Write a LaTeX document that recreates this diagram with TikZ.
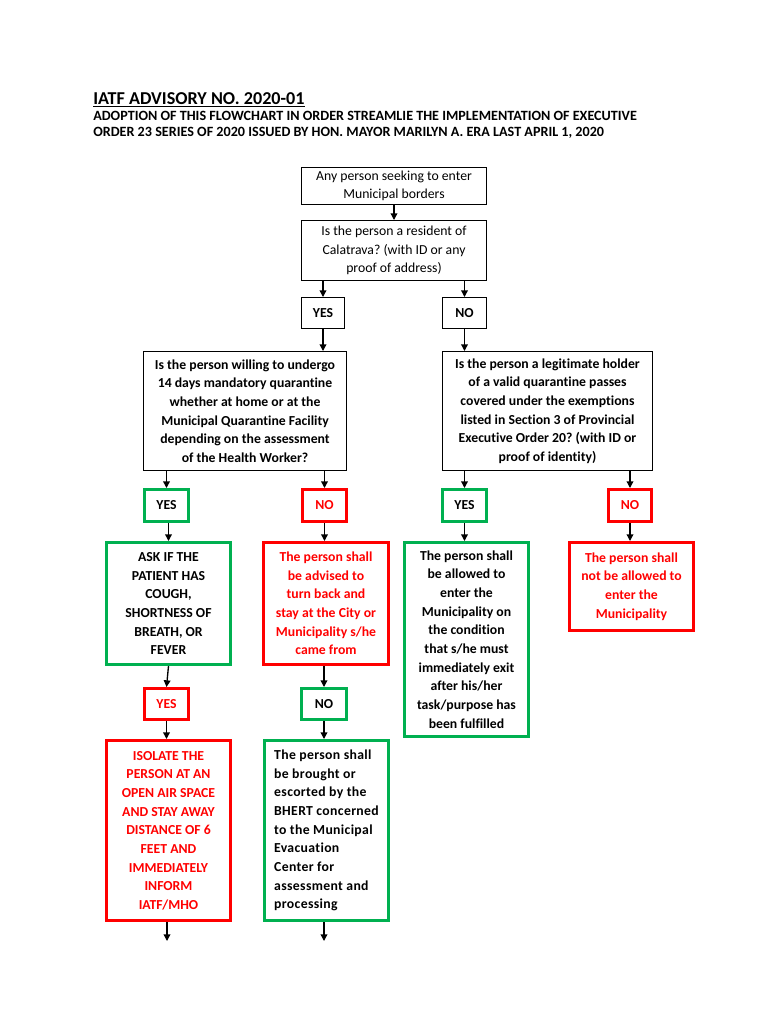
\documentclass[tikz,border=0pt]{standalone}
\usepackage{fontspec}
\setmainfont{Carlito}[Ligatures=NoCommon]
\usetikzlibrary{arrows.meta}
\definecolor{xgreen}{RGB}{0,176,80}
\definecolor{xred}{RGB}{255,0,0}
\newcommand\mybox[8]{\node[#2, minimum width={(#5-#3-#7)*0.75pt}, minimum height={(#6-#4-#7)*0.75pt}] (#1) at ({(#3+#5)/2},{(#4+#6)/2}) {#8};}
\frenchspacing
\begin{document}
\frenchspacing
\begin{tikzpicture}[x=0.75pt,y=-0.75pt,
 base/.style={draw, inner sep=0pt, align=center, font=\fontsize{10.3}{14}\selectfont\frenchspacing},
 blk/.style={base, line width=0.8pt},
 blkb/.style={blk, font=\fontsize{10.3}{14}\selectfont\bfseries\frenchspacing},
 gbox/.style={base, draw=xgreen, line width=2.6pt, font=\fontsize{10.3}{14}\selectfont\bfseries\frenchspacing},
 rbox/.style={base, draw=xred, line width=2.6pt, text=xred, font=\fontsize{10.3}{14}\selectfont\bfseries\frenchspacing},
 arr/.style={line width=1pt, -{Triangle[width=5pt,length=5pt]}},
 hdr/.style={anchor=base west, inner sep=0pt, font=\fontsize{10.6}{12.75}\selectfont\bfseries\frenchspacing}]
\useasboundingbox[fill=white] (0,0) rectangle (768,1024);

\node[anchor=base west, inner sep=0pt, font=\fontsize{13.6}{16}\selectfont\bfseries\frenchspacing] (title) at (93,104) {\underline{IATF ADVISORY NO. 2020-01}};
\node[hdr] (sub1) at (93,120) {ADOPTION OF THIS FLOWCHART IN ORDER STREAMLIE THE IMPLEMENTATION OF EXECUTIVE};
\node[hdr] (sub2) at (93,137) {ORDER 23 SERIES OF 2020 ISSUED BY HON. MAYOR MARILYN A. ERA LAST APRIL 1, 2020};

\mybox{b1}{blk}{301}{167}{487}{205}{1.07}{Any person seeking to enter\\Municipal borders}
\mybox{b2}{blk}{301}{220}{487}{281}{1.07}{Is the person a resident of\\Calatrava? (with ID or any\\proof of address)}
\mybox{y1}{blkb}{301}{297}{345}{329}{1.07}{YES}
\mybox{n1}{blkb}{442}{297}{487}{329}{1.07}{NO}
\mybox{b3}{blkb}{143}{351}{347}{471}{1.07}{Is the person willing to undergo\\14 days mandatory quarantine\\whether at home or at the\\Municipal Quarantine Facility\\depending on the assessment\\of the Health Worker?}
\mybox{b4}{blkb}{442}{351}{653}{471}{1.07}{Is the person a legitimate holder\\of a valid quarantine passes\\covered under the exemptions\\listed in Section 3 of Provincial\\Executive Order 20? (with ID or\\proof of identity)}

\mybox{y2}{gbox}{143}{488}{190}{523}{3.47}{YES}
\mybox{n2}{rbox}{301}{488}{348}{523}{3.47}{NO}
\mybox{y3}{gbox}{441}{488}{488}{523}{3.47}{YES}
\mybox{n3}{rbox}{607}{488}{653}{523}{3.47}{NO}

\mybox{g1}{gbox}{105}{541}{232}{666}{3.47}{ASK IF THE\\PATIENT HAS\\COUGH,\\SHORTNESS OF\\BREATH, OR\\FEVER}
\mybox{r1}{rbox}{262}{541}{390}{666}{3.47}{The person shall\\be advised to\\turn back and\\stay at the City or\\Municipality s/he\\came from}
\mybox{g2}{gbox}{403}{541}{530}{738}{3.47}{The person shall\\be allowed to\\enter the\\Municipality on\\the condition\\that s/he must\\immediately exit\\after his/her\\task/purpose has\\been fulfilled}
\mybox{r2}{rbox}{568}{541}{695}{632}{3.47}{The person shall\\not be allowed to\\enter the\\Municipality}

\mybox{y4}{rbox}{143}{687}{190}{721}{3.47}{YES}
\mybox{n4}{gbox}{300}{687}{348}{721}{3.47}{NO}

\mybox{r3}{rbox}{105}{739}{232}{922}{3.47}{ISOLATE THE\\PERSON AT AN\\OPEN AIR SPACE\\AND STAY AWAY\\DISTANCE OF 6\\FEET AND\\IMMEDIATELY\\INFORM\\IATF/MHO}
\mybox{g3}{gbox, align=left, font=\fontsize{10.3}{14}\selectfont\bfseries\frenchspacing\addfontfeatures{LetterSpace=2.5}}{263}{739}{390}{922}{3.47}{The person shall\\be brought or\\escorted by the\\BHERT concerned\\to the Municipal\\Evacuation\\Center for\\assessment and\\processing}

\coordinate (e1) at (167,941);
\coordinate (e2) at (324,941);

\draw[arr] (b1) -- (b2);
\draw[arr] (y1 |- b2.south) -- (y1.north);
\draw[arr] (n1 |- b2.south) -- (n1.north);
\draw[arr] (y1.south) -- (y1 |- b3.north);
\draw[arr] (n1.south) -- (n1 |- b4.north);
\draw[arr] (y2 |- b3.south) -- (y2.north);
\draw[arr] (n2 |- b3.south) -- (n2.north);
\draw[arr] (y3 |- b4.south) -- (y3.north);
\draw[arr] (n3 |- b4.south) -- (n3.north);
\draw[arr] (g1 |- y2.south) -- (g1.north);
\draw[arr] (n2.south) -- (n2 |- r1.north);
\draw[arr] (y3.south) -- (y3 |- g2.north);
\draw[arr] (n3.south) -- (n3 |- r2.north);
\draw[arr] (g1.south) -- (y4.north);
\draw[arr] (n4 |- r1.south) -- (n4.north);
\draw[arr] (y4.south) -- (y4 |- r3.north);
\draw[arr] (n4.south) -- (n4 |- g3.north);
\draw[arr] (e1 |- r3.south) -- (e1);
\draw[arr] (e2 |- g3.south) -- (e2);
\end{tikzpicture}
\end{document}
